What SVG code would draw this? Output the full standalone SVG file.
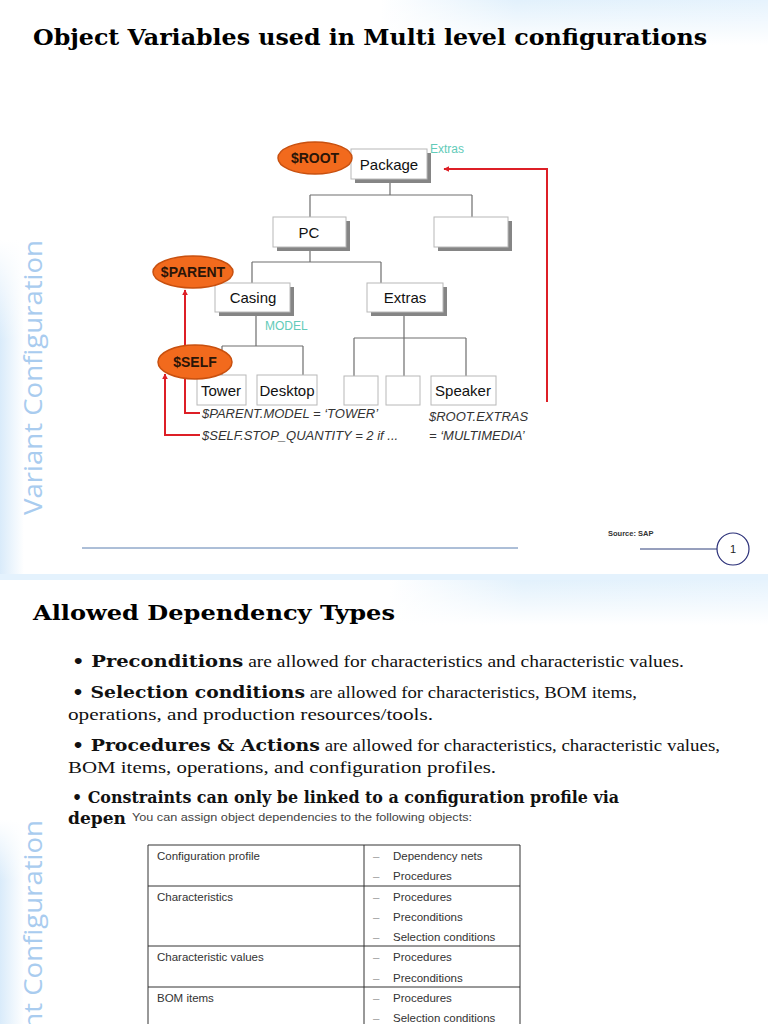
<svg xmlns="http://www.w3.org/2000/svg" width="768" height="1024" viewBox="0 0 768 1024">
<defs>
<linearGradient id="tr" x1="0" y1="0" x2="1" y2="0"><stop offset="0" stop-color="#ffffff"/><stop offset="0.35" stop-color="#e2f1fc"/><stop offset="1" stop-color="#e6f3fd"/></linearGradient>
<linearGradient id="fadeV" x1="0" y1="0" x2="0" y2="1"><stop offset="0" stop-color="#fff" stop-opacity="0"/><stop offset="1" stop-color="#fff" stop-opacity="1"/></linearGradient>
<linearGradient id="lb" x1="0" y1="0" x2="1" y2="0"><stop offset="0" stop-color="#d9ebfa"/><stop offset="1" stop-color="#ffffff"/></linearGradient>
<linearGradient id="lbv" x1="0" y1="0" x2="0" y2="1"><stop offset="0" stop-color="#fff" stop-opacity="1"/><stop offset="0.3" stop-color="#fff" stop-opacity="0"/></linearGradient>
<marker id="ah" viewBox="0 0 10 10" refX="9" refY="5" markerWidth="6" markerHeight="6" orient="auto" markerUnits="userSpaceOnUse"><path d="M0,0 L10,5 L0,10 z" fill="#dd1f26"/></marker>
<style>
.box{fill:#fff;stroke:#b8b8b8;stroke-width:1}
.shd{fill:#858585}
.lbl{font-family:"Liberation Sans",Arial,sans-serif;font-size:15px;fill:#111}
.ell{fill:#f26a1d;stroke:#c8500f;stroke-width:1.5}
.elt{font-family:"Liberation Sans",Arial,sans-serif;font-size:14px;font-weight:bold;fill:#2a1508;text-anchor:middle}
.con{fill:none;stroke:#6e6e6e;stroke-width:1.2}
.red{fill:none;stroke:#dd1f26;stroke-width:2}
.teal{font-family:"Liberation Sans",Arial,sans-serif;font-size:12px;fill:#62cbb8}
.it{font-family:"Liberation Sans",Arial,sans-serif;font-size:13px;font-style:italic;fill:#333}
.vc{font-family:"Open Sans","DejaVu Sans",sans-serif;font-size:26px;fill:#a9ccef}
.ttl{font-family:"DejaVu Serif",serif;font-weight:bold;fill:#000}
.body{font-family:"Liberation Serif","DejaVu Serif",serif;font-size:16px;fill:#111}
.b{font-family:"DejaVu Serif",serif;font-weight:bold}
.tb{font-family:"Liberation Sans",Arial,sans-serif;font-size:11.5px;fill:#333}
.tl{stroke:#333;stroke-width:1;fill:none}
</style>
</defs>
<rect width="768" height="1024" fill="#fff"/>
<!-- slide backgrounds -->
<rect x="380" y="0" width="388" height="45" fill="url(#tr)"/>
<rect x="380" y="0" width="388" height="45" fill="url(#fadeV)"/>
<rect x="0" y="240" width="24" height="334" fill="url(#lb)"/>
<rect x="0" y="240" width="24" height="334" fill="url(#lbv)"/>
<rect x="0" y="574" width="768" height="6" fill="#e4f2fd"/>
<rect x="390" y="580" width="378" height="45" fill="url(#tr)"/>
<rect x="390" y="580" width="378" height="45" fill="url(#fadeV)"/>
<rect x="0" y="820" width="24" height="204" fill="url(#lb)"/>
<rect x="0" y="820" width="24" height="204" fill="url(#lbv)"/>
<text class="vc" transform="translate(42,515) rotate(-90)" textLength="275" lengthAdjust="spacingAndGlyphs">Variant Configuration</text>
<text class="vc" transform="translate(42,1095) rotate(-90)" textLength="275" lengthAdjust="spacingAndGlyphs">Variant Configuration</text>

<!-- slide 1 -->
<text class="ttl" x="33" y="45" font-size="22" textLength="674" lengthAdjust="spacingAndGlyphs">Object Variables used in Multi level configurations</text>

<g id="connectors">
<path class="con" d="M390,179 V195 M310,195 H472 M310,195 V217 M472,195 V217"/>
<path class="con" d="M310,247 V262 M252,262 H381 M252,262 V283 M381,262 V283"/>
<path class="con" d="M256,312 V346 M222,346 H303 M222,346 V375 M303,346 V375"/>
<path class="con" d="M404,312 V338 M354,338 H466 M354,338 V376 M404,338 V376 M466,338 V376"/>
<path class="red" d="M185,347 V290" marker-end="url(#ah)"/>
<path class="red" d="M185,378 V413 H200"/>
<path class="red" d="M200,435 H165 V374" marker-end="url(#ah)"/>
<path class="red" d="M547,402 V169 H444" marker-end="url(#ah)"/>
</g>

<g id="package"><rect class="shd" x="355" y="153" width="76" height="30"/><rect class="box" x="351" y="149" width="76" height="30"/><text class="lbl" x="389" y="170" text-anchor="middle">Package</text></g>
<g id="pc"><rect class="shd" x="277" y="221" width="73" height="30"/><rect class="box" x="273" y="217" width="73" height="30"/><text class="lbl" x="309" y="238" text-anchor="middle">PC</text></g>
<g id="empty1"><rect class="shd" x="438" y="221" width="74" height="30"/><rect class="box" x="434" y="217" width="74" height="30"/></g>
<g id="casing"><rect class="shd" x="219" y="287" width="75" height="29"/><rect class="box" x="215" y="283" width="75" height="29"/><text class="lbl" x="253" y="303" text-anchor="middle">Casing</text></g>
<g id="extras"><rect class="shd" x="371" y="287" width="76" height="29"/><rect class="box" x="367" y="283" width="76" height="29"/><text class="lbl" x="405" y="303" text-anchor="middle">Extras</text></g>
<g id="tower"><rect class="box" x="197" y="375" width="49" height="30"/><text class="lbl" x="221" y="396" text-anchor="middle">Tower</text></g>
<g id="desktop"><rect class="box" x="257" y="375" width="60" height="30"/><text class="lbl" x="287" y="396" text-anchor="middle">Desktop</text></g>
<g id="empty2"><rect class="box" x="344" y="376" width="34" height="29"/></g>
<g id="empty3"><rect class="box" x="386" y="376" width="34" height="29"/></g>
<g id="speaker"><rect class="box" x="431" y="376" width="65" height="29"/><text class="lbl" x="463" y="396" text-anchor="middle" font-size="13">Speaker</text></g>

<g id="root"><ellipse class="ell" cx="315" cy="158" rx="37" ry="16"/><text class="elt" x="315" y="163">$ROOT</text></g>
<g id="parent"><ellipse class="ell" cx="193" cy="272" rx="40" ry="16"/><text class="elt" x="193" y="277">$PARENT</text></g>
<g id="self"><ellipse class="ell" cx="195" cy="362" rx="37" ry="17"/><text class="elt" x="195" y="367" font-size="15">$SELF</text></g>

<text class="teal" x="430" y="153">Extras</text>
<text class="teal" x="265" y="330">MODEL</text>
<text class="it" x="202" y="418">$PARENT.MODEL = ‘TOWER’</text>
<text class="it" x="202" y="440">$SELF.STOP_QUANTITY = 2 if ...</text>
<text class="it" x="429" y="421">$ROOT.EXTRAS</text>
<text class="it" x="429" y="440">= ‘MULTIMEDIA’</text>

<text x="608" y="536" font-family="Liberation Sans,Arial,sans-serif" font-size="7.5" font-weight="bold" fill="#333">Source: SAP</text>
<line x1="82" y1="548" x2="518" y2="548" stroke="#5a7fb0" stroke-width="1"/>
<line x1="640" y1="549" x2="718" y2="549" stroke="#2f3f7a" stroke-width="1"/>
<circle cx="733" cy="549" r="16" fill="#fff" stroke="#2a2f78" stroke-width="1.2"/>
<text x="733" y="553" font-family="Liberation Sans,Arial,sans-serif" font-size="11" fill="#222" text-anchor="middle">1</text>

<!-- slide 2 -->
<text class="ttl" x="33" y="620" font-size="21" textLength="362" lengthAdjust="spacingAndGlyphs">Allowed Dependency Types</text>
<text class="body" x="72" y="667" textLength="612" lengthAdjust="spacingAndGlyphs"><tspan class="b">• Preconditions</tspan> are allowed for characteristics and characteristic values.</text>
<text class="body" x="72" y="698" textLength="565" lengthAdjust="spacingAndGlyphs"><tspan class="b">•  Selection conditions</tspan> are allowed for characteristics, BOM items,</text>
<text class="body" x="68" y="720" textLength="365" lengthAdjust="spacingAndGlyphs">operations, and production resources/tools.</text>
<text class="body" x="72" y="751" textLength="648" lengthAdjust="spacingAndGlyphs"><tspan class="b">• Procedures &amp; Actions</tspan> are allowed for characteristics, characteristic values,</text>
<text class="body" x="68" y="773" textLength="428" lengthAdjust="spacingAndGlyphs">BOM items, operations, and configuration profiles.</text>
<text class="body b" x="72" y="803" textLength="547" lengthAdjust="spacingAndGlyphs">•  Constraints can only be linked to a configuration profile via</text>
<text class="body b" x="68" y="824" textLength="58" lengthAdjust="spacingAndGlyphs">depen</text>
<text x="132" y="821" font-family="Liberation Sans,Arial,sans-serif" font-size="11" fill="#444" textLength="340" lengthAdjust="spacingAndGlyphs">You can assign object dependencies to the following objects:</text>

<g id="table">
<path class="tl" d="M148,845 H520 M148,886 H520 M148,946 H520 M148,987 H520 M148,845 V1024 M364,845 V1024 M520,845 V1024"/>
<text class="tb" x="157" y="860">Configuration profile</text>
<text class="tb" x="157" y="901">Characteristics</text>
<text class="tb" x="157" y="961">Characteristic values</text>
<text class="tb" x="157" y="1002">BOM items</text>
<g fill="#999" font-family="Liberation Sans,Arial,sans-serif" font-size="11.5">
<text x="373" y="860">–</text><text x="373" y="880">–</text>
<text x="373" y="901">–</text><text x="373" y="921">–</text><text x="373" y="941">–</text>
<text x="373" y="961">–</text><text x="373" y="982">–</text>
<text x="373" y="1002">–</text><text x="373" y="1022">–</text>
</g>
<text class="tb" x="393" y="860">Dependency nets</text>
<text class="tb" x="393" y="880">Procedures</text>
<text class="tb" x="393" y="901">Procedures</text>
<text class="tb" x="393" y="921">Preconditions</text>
<text class="tb" x="393" y="941">Selection conditions</text>
<text class="tb" x="393" y="961">Procedures</text>
<text class="tb" x="393" y="982">Preconditions</text>
<text class="tb" x="393" y="1002">Procedures</text>
<text class="tb" x="393" y="1022">Selection conditions</text>
</g>
</svg>
